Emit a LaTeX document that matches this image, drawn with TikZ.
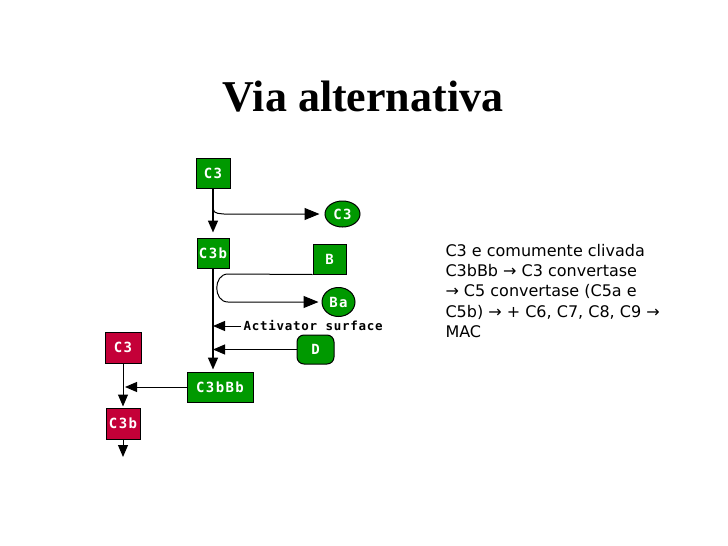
\documentclass[tikz,border=0pt]{standalone}
\usepackage{fontspec}
\setmainfont{DejaVu Sans}
\newfontfamily\titlefont{Liberation Serif}
\newfontfamily\pixfont[LetterSpace=10]{DejaVu Sans Mono}
\newfontfamily\actfont[LetterSpace=6]{DejaVu Sans Mono}
\usetikzlibrary{arrows.meta,shapes.geometric}
\definecolor{boxgreen}{RGB}{0,153,0}
\definecolor{boxred}{RGB}{196,0,56}
\tikzset{
  gbox/.style={draw=black, fill=boxgreen, text=white, inner sep=0pt,
    minimum height=30pt, font=\pixfont\bfseries\fontsize{14}{14}\selectfont},
  rbox/.style={gbox, fill=boxred},
  gcirc/.style={gbox, ellipse},
  tip/.style={-{Triangle[length=12pt,width=10pt]}},
  bigtip/.style={-{Triangle[length=15pt,width=12pt]}},
}
\begin{document}
\begin{tikzpicture}[x=1pt,y=-1pt,line width=1pt]
  \useasboundingbox (0,0) rectangle (728,546);
  \node[anchor=base, font=\titlefont\bfseries\fontsize{44}{44}\selectfont] (ttl) at (363,111) {Via alternativa};
  % green pathway
  \node[gbox, minimum width=34pt] (c3) at (213,173.5) {C3};
  \node[gbox, minimum width=32pt] (c3b) at (213,253) {C3b};
  \node[gcirc, minimum width=35pt, minimum height=26pt] (c3a) at (342.5,214) {C3};
  \node[gbox, minimum width=33pt] (b) at (329.5,259) {B};
  \node[gcirc, minimum width=33pt, minimum height=29pt] (ba) at (338.5,302) {Ba};
  \node[anchor=west, inner sep=2pt, font=\actfont\bfseries\fontsize{12.5}{12.5}\selectfont] (act) at (241,326) {Activator surface};
  \node[gbox, rounded corners=7pt, minimum width=37pt, minimum height=29pt] (d) at (315.5,349.5) {D};
  \node[gbox, minimum width=66pt] (c3bbb) at (220,387) {C3bBb};
  % red pathway
  \node[rbox, minimum width=36pt, minimum height=31pt] (r3) at (123,347.5) {C3};
  \node[rbox, minimum width=34pt, minimum height=31pt] (r3b) at (123,423.5) {C3b};
  \coordinate (s1) at (213,203);
  \coordinate (out) at (123,457);
  \draw[tip, line width=1.6pt, shorten >=5pt] (c3.south) -- (c3b.north);
  \draw[tip, line width=1.6pt, shorten >=2pt] (c3b.south) -- (c3b.south |- c3bbb.north);
  \draw[bigtip, shorten >=5pt] (s1) .. controls (213,213) .. (224,214) -- (c3a.west);
  \draw[bigtip, shorten >=3pt] (b.south west) -- (228,274) .. controls (213,274) and (213,302) .. (228,302) -- (ba.west);
  \draw[tip] (act.west) -- (c3b |- act);
  \draw[tip] (d.west) -- (c3b |- d);
  \draw[tip, shorten >=2pt] (c3bbb.west) -- (r3 |- c3bbb);
  \draw[tip, shorten >=1pt] (r3.south) -- (r3b.north);
  \draw[tip] (r3b.south) -- (out);
  % text
  \node[anchor=base west, align=left, inner sep=0pt, font=\fontsize{16}{20.3}\selectfont] (txt) at (445,337.5)
    {C3 e comumente clivada\\C3bBb → C3 convertase\\→ C5 convertase (C5a e\\C5b) → + C6, C7, C8, C9 →\\MAC};
\end{tikzpicture}
\end{document}
